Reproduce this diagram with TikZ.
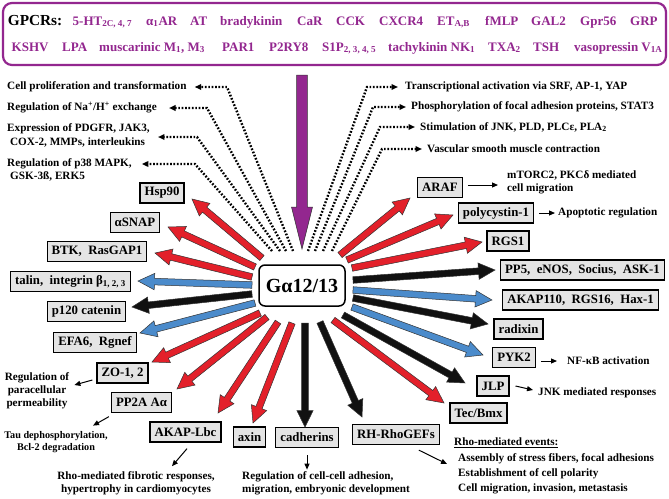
\documentclass[tikz,border=0pt]{standalone}
\usepackage{fontspec}
\setmainfont{Liberation Serif}
\usetikzlibrary{calc,arrows.meta}
\definecolor{gpurple}{HTML}{93278F}
\definecolor{ared}{HTML}{E3202A}
\definecolor{ablue}{HTML}{4B8BCB}
\definecolor{ablack}{HTML}{111111}
\definecolor{boxgray}{HTML}{E4E4E4}
\newcommand\blockarrow[6]{%
  \draw[line width=0.5pt, draw=black!80, fill=#1, line join=miter] let \p1=(#2), \p2=(#3),
   \n1={atan2(\y2-\y1,\x2-\x1)}, \n2={veclen(\x2-\x1,\y2-\y1)-#6pt} in
   ($(\p1)+(canvas polar cs:angle=\n1+90,radius=#4pt)$) --
   ($(\p1)+(canvas polar cs:angle=\n1,radius=\n2)+(canvas polar cs:angle=\n1+90,radius=#4pt)$) --
   ($(\p1)+(canvas polar cs:angle=\n1,radius=\n2)+(canvas polar cs:angle=\n1+90,radius=#5pt)$) --
   (\p2) --
   ($(\p1)+(canvas polar cs:angle=\n1,radius=\n2)+(canvas polar cs:angle=\n1-90,radius=#5pt)$) --
   ($(\p1)+(canvas polar cs:angle=\n1,radius=\n2)+(canvas polar cs:angle=\n1-90,radius=#4pt)$) --
   ($(\p1)+(canvas polar cs:angle=\n1-90,radius=#4pt)$) -- cycle;}
\newcommand\thickarrow[3]{\blockarrow{#1}{#2}{#3}{3.3}{8.2}{16.5}}
\begin{document}
\begin{tikzpicture}[x=1pt,y=-1pt,
  gp/.style={anchor=base west, inner sep=0pt, text=gpurple, font=\bfseries\fontsize{13}{15}\selectfont},
  tbox/.style={draw=black, line width=1.3pt, fill=boxgray, font=\bfseries\fontsize{12.8}{15}\selectfont, inner xsep=4.5pt, inner ysep=0pt, minimum height=20pt},
  stext/.style={font=\bfseries\fontsize{11.2}{13}\selectfont, inner sep=0pt},
  dotarrow/.style={line width=2.4pt, dash pattern=on 1.7pt off 1.7pt, -{Triangle[length=6.5pt,width=5.5pt]}},
  sarrow/.style={line width=1pt, -{Triangle[length=6pt,width=5pt]}},
]
\useasboundingbox[fill=white] (0,0) rectangle (669,498);
% GPCR box
\node[draw=gpurple, line width=2.2pt, rounded corners=9pt, minimum width=663pt, minimum height=62pt, inner sep=0pt] (gpcr) at (334.5,34) {};
\node[anchor=base west, inner sep=0pt, font=\bfseries\fontsize{15.3}{17}\selectfont] (g0) at (7.7,25) {GPCRs:};
\node[gp] (g1) at (72.5,25) {5-HT\textsubscript{2C, 4, 7}};
\node[gp] (g2) at (146,25) {α\textsubscript{1}AR};
\node[gp] (g3) at (190,25) {AT};
\node[gp] (g4) at (220,25) {bradykinin};
\node[gp] (g5) at (297,25) {CaR};
\node[gp] (g6) at (336,25) {CCK};
\node[gp] (g7) at (379,25) {CXCR4};
\node[gp] (g8) at (437,25) {ET\textsubscript{A,B}};
\node[gp] (g9) at (485,25) {fMLP};
\node[gp] (g10) at (531,25) {GAL2};
\node[gp] (g11) at (580,25) {Gpr56};
\node[gp] (g12) at (630,25) {GRP};
\node[gp] (h1) at (11.5,51) {KSHV};
\node[gp] (h2) at (62,51) {LPA};
\node[gp] (h3) at (99,51) {muscarinic M\textsubscript{1}, M\textsubscript{3}};
\node[gp] (h4) at (222,51) {PAR1};
\node[gp] (h5) at (269,51) {P2RY8};
\node[gp] (h6) at (322,51) {S1P\textsubscript{2, 3, 4, 5}};
\node[gp] (h7) at (388,51) {tachykinin NK\textsubscript{1}};
\node[gp] (h8) at (488,51) {TXA\textsubscript{2}};
\node[gp] (h9) at (533,51) {TSH};
\node[gp] (h10) at (574,51) {vasopressin V\textsubscript{1A}};
% central node
\node[draw, line width=1.5pt, rounded corners=6pt, fill=white, minimum width=86pt, minimum height=41pt, inner sep=0pt, font=\bfseries\fontsize{20}{24}\selectfont] (ga) at (302,285.5) {Gα12/13};
% purple arrow
\coordinate (ptail) at (302,75);
\coordinate (ptip) at (302,249);
\blockarrow{gpurple}{ptail}{ptip}{5.3}{10.5}{42}
% left dotted labels
\node[stext, anchor=west] (l1) at (7,87) {Cell proliferation and transformation};
\node[stext, anchor=west] (l2) at (7,108) {Regulation of Na\textsuperscript{+}/H\textsuperscript{+} exchange};
\node[stext, anchor=west, align=left, font=\bfseries\fontsize{11.2}{14.5}\selectfont] (l3) at (7,135.5) {Expression of PDGFR, JAK3,\\\ COX-2, MMPs, interleukins};
\node[stext, anchor=west] (l4) at (7,164) {Regulation of p38 MAPK,};
\node[stext, anchor=west] (l4b) at (10,176) {GSK-3ß, ERK5};
\coordinate (dl1) at (293,251); \coordinate (cl1) at (227,87);
\coordinate (dl2) at (286,251); \coordinate (cl2) at (207,108);
\coordinate (dl3) at (280,251); \coordinate (cl3) at (197,137);
\coordinate (dl4) at (272,251); \coordinate (cl4) at (195,164);
\draw[dotarrow] (dl1) -- (cl1) -- ([xshift=8pt]l1.east);
\draw[dotarrow] (dl2) -- (cl2) -- ([xshift=12pt]l2.east);
\draw[dotarrow] (dl3) -- (cl3) -- ([xshift=8pt]l3.east |- cl3);
\draw[dotarrow] (dl4) -- (cl4) -- ([xshift=10pt]l4.east);
% right dotted labels
\node[stext, anchor=west] (r1) at (405,87) {Transcriptional activation via SRF, AP-1, YAP};
\node[stext, anchor=west] (r2) at (411,107) {Phosphorylation of focal adhesion proteins, STAT3};
\node[stext, anchor=west] (r3) at (420,127) {Stimulation of JNK, PLD, PLCε, PLA\textsubscript{2}};
\node[stext, anchor=west] (r4) at (427,149) {Vascular smooth muscle contraction};
\coordinate (dr1) at (308,251); \coordinate (cr1) at (367,87);
\coordinate (dr2) at (315,251); \coordinate (cr2) at (373,107);
\coordinate (dr3) at (323,251); \coordinate (cr3) at (380,127);
\coordinate (dr4) at (332,251); \coordinate (cr4) at (382,149);
\draw[dotarrow] (dr1) -- (cr1) -- ([xshift=-7pt]r1.west);
\draw[dotarrow] (dr2) -- (cr2) -- ([xshift=-5pt]r2.west);
\draw[dotarrow] (dr3) -- (cr3) -- ([xshift=-5pt]r3.west);
\draw[dotarrow] (dr4) -- (cr4) -- ([xshift=-5pt]r4.west);
% target boxes
\node[tbox] (hsp) at (162,193) {Hsp90};
\node[tbox] (asnap) at (135,222.5) {αSNAP};
\node[tbox] (btk) at (97,251.5) {BTK,~ RasGAP1};
\node[tbox] (talin) at (70.5,281.5) {talin,~ integrin β\textsubscript{1, 2, 3}};
\node[tbox] (p120) at (86.5,311.5) {p120 catenin};
\node[tbox] (efa) at (95,342.5) {EFA6,~ Rgnef};
\node[tbox] (zo) at (122.5,373) {ZO-1, 2};
\node[tbox] (pp2a) at (141.5,402.5) {PP2A Aα};
\node[tbox] (akaplbc) at (185.5,432) {AKAP-Lbc};
\node[tbox] (axin) at (249.5,437) {axin};
\node[tbox] (cad) at (307,437.5) {cadherins};
\node[tbox] (rh) at (396,434.5) {RH-RhoGEFs};
\node[tbox] (tec) at (478.5,413) {Tec/Bmx};
\node[tbox] (jlp) at (493,386) {JLP};
\node[tbox] (pyk) at (514,357.5) {PYK2};
\node[tbox] (radixin) at (518.5,329) {radixin};
\node[tbox] (akap110) at (580.5,300) {AKAP110,~ RGS16,~ Hax-1};
\node[tbox] (pp5) at (582.5,270) {PP5,~ eNOS,~ Socius,~ ASK-1};
\node[tbox] (rgs1) at (508,241) {RGS1};
\node[tbox] (poly) at (496,213) {polycystin-1};
\node[tbox] (araf) at (440,187.5) {ARAF};
% arrow tails and tips
\coordinate (s1) at (262,258);  \coordinate (e1) at (192,199);
\coordinate (s2) at (255,267);  \coordinate (e2) at (168,227);
\coordinate (s3) at (252,277);  \coordinate (e3) at (155,253);
\coordinate (s4) at (252,285);  \coordinate (e4) at (138,281);
\coordinate (s5) at (252,294);  \coordinate (e5) at (132,307);
\coordinate (s6) at (255,303);  \coordinate (e6) at (140,333);
\coordinate (s7) at (260,313);  \coordinate (e7) at (152,362);
\coordinate (s8) at (267,317);  \coordinate (e8) at (177,389);
\coordinate (s9) at (278,322);  \coordinate (e9) at (218,413);
\coordinate (s10) at (292,323); \coordinate (e10) at (253,423);
\coordinate (s11) at (305,323); \coordinate (e11) at (305,427);
\coordinate (s12) at (320,322); \coordinate (e12) at (362,417);
\coordinate (s13) at (333,320); \coordinate (e13) at (444,403);
\coordinate (s14) at (343,315); \coordinate (e14) at (465,383);
\coordinate (s15) at (352,307); \coordinate (e15) at (483,355);
\coordinate (s16) at (353,298); \coordinate (e16) at (488,324);
\coordinate (s17) at (353,290); \coordinate (e17) at (492,300);
\coordinate (s18) at (353,280); \coordinate (e18) at (495,270);
\coordinate (s19) at (352,268); \coordinate (e19) at (482,242);
\coordinate (s20) at (347,260); \coordinate (e20) at (453,215);
\coordinate (s21) at (340,255); \coordinate (e21) at (410,198);
\thickarrow{ared}{s1}{e1}
\thickarrow{ared}{s2}{e2}
\thickarrow{ared}{s3}{e3}
\thickarrow{ablue}{s4}{e4}
\thickarrow{ablack}{s5}{e5}
\thickarrow{ablue}{s6}{e6}
\thickarrow{ared}{s7}{e7}
\thickarrow{ared}{s8}{e8}
\thickarrow{ared}{s9}{e9}
\thickarrow{ared}{s10}{e10}
\thickarrow{ablack}{s11}{e11}
\thickarrow{ablack}{s12}{e12}
\thickarrow{ared}{s13}{e13}
\thickarrow{ablack}{s14}{e14}
\thickarrow{ablue}{s15}{e15}
\thickarrow{ablack}{s16}{e16}
\thickarrow{ablue}{s17}{e17}
\thickarrow{ablack}{s18}{e18}
\thickarrow{ared}{s19}{e19}
\thickarrow{ared}{s20}{e20}
\thickarrow{ared}{s21}{e21}
% side outcome texts
\node[stext, anchor=west, align=left] (araftxt) at (507,182.5) {mTORC2, PKCδ mediated\\cell migration};
\draw[sarrow] ([xshift=5pt,yshift=2.5pt]araf.east) -- ([xshift=-9pt,yshift=-2.5pt]araftxt.west);
\node[stext, anchor=west] (polytxt) at (558,213) {Apoptotic regulation};
\draw[sarrow] ([xshift=5pt]poly.east) -- ([xshift=-3pt]polytxt.west);
\node[stext, anchor=west] (pyktxt) at (567,361) {NF-κB activation};
\draw[sarrow] ([xshift=5pt,yshift=-3.5pt]pyk.east) -- ([xshift=-10pt]pyktxt.west);
\node[stext, anchor=west] (jlptxt) at (538,393) {JNK mediated responses};
\draw[sarrow] ([xshift=6pt]jlp.east) -- ([xshift=-5pt,yshift=3pt]jlptxt.west);
\node[stext, anchor=west] (rhohead) at (454,443) {\underline{Rho-mediated events:}};
\node[stext, anchor=west] (rho1) at (458,458.5) {Assembly of stress fibers, focal adhesions};
\node[stext, anchor=west] (rho2) at (458,474) {Establishment of cell polarity};
\node[stext, anchor=west] (rho3) at (458,489) {Cell migration, invasion, metastasis};
\draw[sarrow] ([xshift=-21pt,yshift=-5pt]rh.south east) -- ([xshift=-11pt,yshift=-5.5pt]rho1.west);
\node[stext, anchor=west, align=left] (cadtxt) at (242,483.5) {Regulation of cell-cell adhesion,\\migration, embryonic development};
\draw[sarrow] ([yshift=-7pt]cad.south) -- ([yshift=2pt]cad.south |- cadtxt.north);
\node[stext, align=center] (akaptxt) at (136,483) {Rho-mediated fibrotic responses,\\hypertrophy in cardiomyocytes};
\draw[sarrow] ([xshift=1.5pt,yshift=-6pt]akaplbc.south) -- ([xshift=36pt,yshift=5pt]akaptxt.north);
\node[stext, align=center, font=\bfseries\fontsize{10.2}{12}\selectfont] (pp2atxt) at (56,442.5) {Tau dephosphorylation,\\Bcl-2 degradation};
\draw[sarrow] ([xshift=-2pt,yshift=-3.5pt]pp2a.south west) -- ([xshift=37pt,yshift=6pt]pp2atxt.north);
\node[stext, align=center] (zotxt) at (37,391) {Regulation of\\paracellular\\permeability};
\draw[sarrow] ([xshift=-4pt,yshift=-7pt]zo.west) -- ([xshift=5pt,yshift=6pt]zotxt.east);
\end{tikzpicture}
\end{document}
